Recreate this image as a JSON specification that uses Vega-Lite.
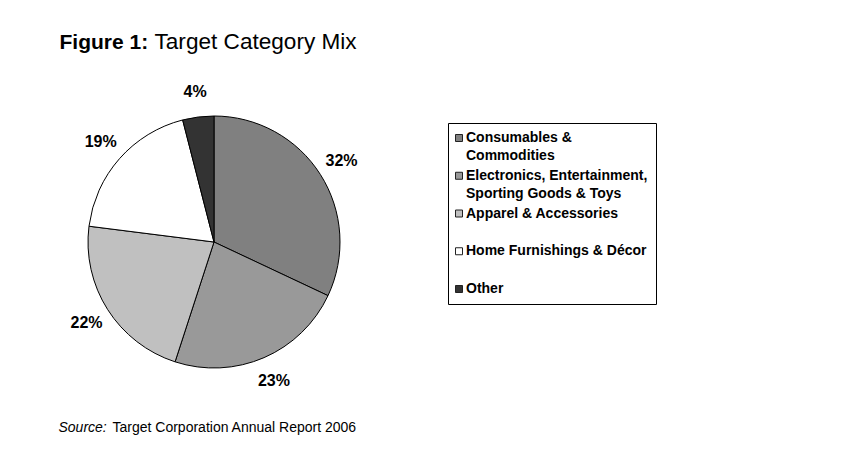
{
  "$schema": "https://vega.github.io/schema/vega-lite/v6.json",
  "width": 252,
  "height": 252,
  "autosize": {"type": "none"},
  "padding": {"left": 88, "top": 116, "right": 506, "bottom": 93},
  "background": "white",
  "data": {
    "values": [
      {"category": "Consumables & Commodities", "share": 0.32, "order": 1},
      {"category": "Electronics, Entertainment, Sporting Goods & Toys", "share": 0.23, "order": 2},
      {"category": "Apparel & Accessories", "share": 0.22, "order": 3},
      {"category": "Home Furnishings & Décor", "share": 0.19, "order": 4},
      {"category": "Other", "share": 0.04, "order": 5}
    ]
  },
  "layer": [
    {
      "mark": {"type": "arc", "outerRadius": 126, "stroke": "black", "strokeWidth": 1},
      "encoding": {
        "theta": {"field": "share", "type": "quantitative", "stack": true},
        "order": {"field": "order", "type": "quantitative"},
        "color": {
          "field": "category",
          "type": "nominal",
          "scale": {
            "domain": ["Consumables & Commodities", "Electronics, Entertainment, Sporting Goods & Toys", "Apparel & Accessories", "Home Furnishings & Décor", "Other"],
            "range": ["#808080", "#999999", "#c0c0c0", "#ffffff", "#333333"]
          },
          "legend": {
            "title": null,
            "orient": "none",
            "legendX": 360,
            "legendY": 7,
            "padding": 8,
            "strokeColor": "black",
            "fillColor": "white",
            "symbolType": "square",
            "symbolSize": 49,
            "symbolStrokeColor": "#222222",
            "symbolStrokeWidth": 1,
            "symbolOffset": -4,
            "labelOffset": 0,
            "labelFont": "Liberation Sans",
            "labelFontSize": 14,
            "labelFontWeight": "bold",
            "labelColor": "black",
            "labelLimit": 0,
            "gridAlign": "all",
            "rowPadding": 5.75,
            "labelExpr": "datum.label == 'Consumables & Commodities' ? ['Consumables &', 'Commodities'] : datum.label == 'Electronics, Entertainment, Sporting Goods & Toys' ? ['Electronics, Entertainment,', 'Sporting Goods & Toys'] : datum.label",
            "encode": {
              "labels": {"update": {"lineHeight": {"value": 18}}}
            }
          }
        }
      }
    },
    {
      "mark": {"type": "text", "radius": 151, "font": "Liberation Sans", "fontSize": 16, "fontWeight": "bold", "color": "black"},
      "encoding": {
        "theta": {"field": "share", "type": "quantitative", "stack": true},
        "order": {"field": "order", "type": "quantitative"},
        "text": {"field": "share", "type": "quantitative", "format": ".0%"}
      }
    },
    {
      "mark": {"type": "point", "opacity": 0},
      "encoding": {
        "x": {"datum": "a", "type": "nominal", "axis": {"orient": "bottom", "title": "Target Corporation Annual Report 2006", "titleX": 24, "titleY": 63, "titleFontSize": 14, "titleFontWeight": "normal", "titleFontStyle": "normal"}},
        "y": {"datum": "a", "type": "nominal", "axis": {"orient": "left", "title": "Source:", "titleX": -30, "titleY": 315, "titleAngle": 0, "titleFontSize": 14, "titleFontWeight": "normal", "titleFontStyle": "italic"}}
      }
    },
    {
      "mark": {"type": "point", "opacity": 0},
      "encoding": {
        "x": {"datum": "b", "type": "nominal", "axis": {"orient": "top", "title": "Figure 1:", "titleX": -29, "titleY": -68, "titleFontSize": 21, "titleFontWeight": "bold"}},
        "y": {"datum": "b", "type": "nominal", "axis": {"orient": "right", "title": "Target Category Mix", "titleX": -186, "titleY": -68, "titleAngle": 0, "titleFontSize": 22.6, "titleFontWeight": "normal"}}
      }
    }
  ],
  "resolve": {
    "scale": {"x": "independent", "y": "independent"},
    "axis": {"x": "independent", "y": "independent"}
  },
  "config": {
    "view": {"stroke": null},
    "font": "Liberation Sans",
    "axis": {
      "domain": false,
      "ticks": false,
      "labels": false,
      "grid": false,
      "titleFont": "Liberation Sans",
      "titleColor": "black",
      "titleAlign": "left",
      "titleBaseline": "alphabetic",
      "titleAnchor": null
    }
  }
}
